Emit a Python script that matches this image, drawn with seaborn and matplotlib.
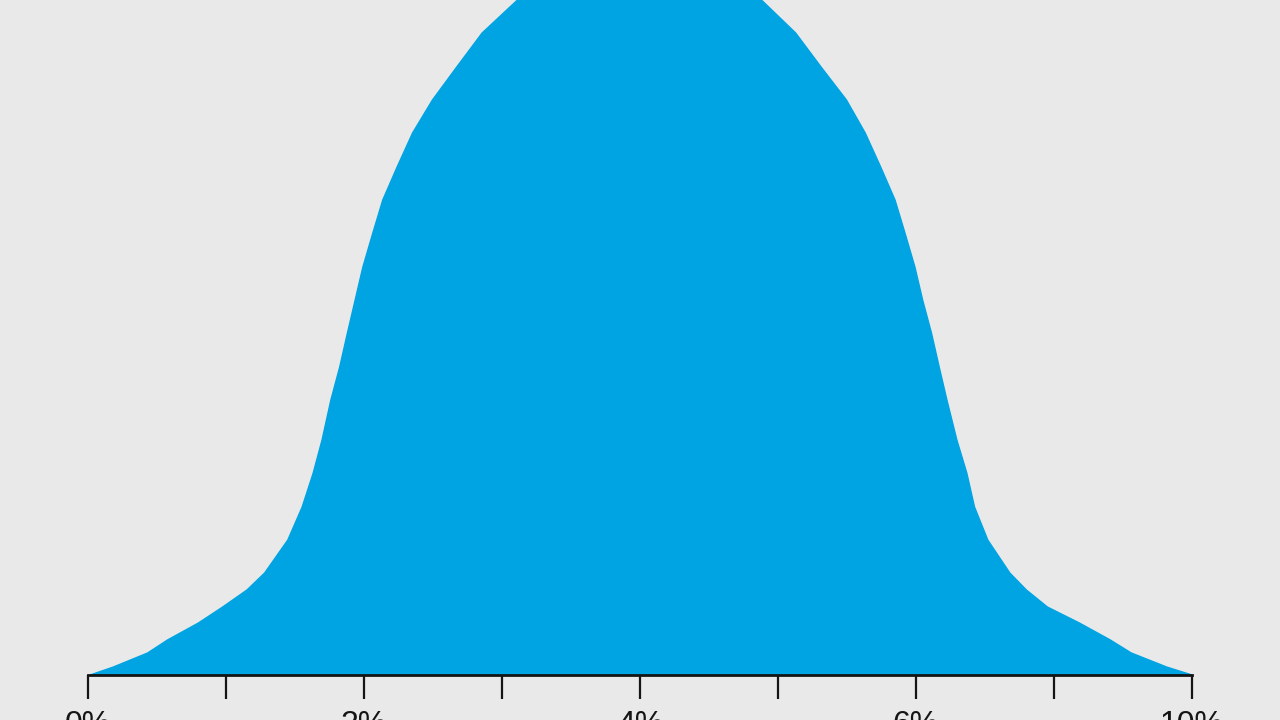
import matplotlib
matplotlib.use("Agg")
import matplotlib.pyplot as plt
import seaborn as sns
import pandas as pd

# Data (x in %, density in arbitrary units)
x_pct = [0.02, 0.23, 0.54, 0.72, 1.00, 1.22, 1.44, 1.60, 1.81, 1.94, 2.04, 2.12,
         2.20, 2.28, 2.35, 2.42, 2.49, 2.58, 2.67, 2.80, 2.94, 3.12, 3.34, 3.57,
         3.89, 4.44, 4.99, 5.54, 6.10, 6.41, 6.64, 6.87, 7.04, 7.18, 7.31, 7.40,
         7.49, 7.56, 7.64, 7.71, 7.78, 7.87, 7.96, 8.03, 8.15, 8.35, 8.50, 8.69,
         8.98, 9.26, 9.45, 9.77, 10.00]
density = [0, 8, 22, 35, 52, 68, 85, 102, 135, 168, 202, 235,
           275, 308, 342, 375, 408, 442, 475, 508, 542, 575, 608, 642,
           675, 720, 732, 720, 675, 642, 608, 575, 542, 508, 475, 442,
           408, 375, 342, 308, 275, 235, 202, 168, 135, 102, 85, 68,
           52, 35, 22, 8, 0]

tick_positions = [0, 1.25, 2.5, 3.75, 5, 6.25, 7.5, 8.75, 10]
tick_labels = ["0%", "", "2%", "", "4%", "", "6%", "", "10%"]

BG = "#E9E9E9"
BLUE = "#00A4E2"
DARK = "#151515"

sns.set_theme(style="white")
plt.rcParams['font.family'] = ['Liberation Sans', 'DejaVu Sans']

fig = plt.figure(figsize=(12.8, 7.2), dpi=100, facecolor=BG)
ax = fig.add_axes([88 / 1280, 45 / 720, (1192 - 88) / 1280, 675 / 720])
ax.set_facecolor(BG)

df = pd.DataFrame({"x": x_pct, "density": density})
sns.lineplot(data=df, x="x", y="density", ax=ax, color=BLUE, linewidth=1.0, sort=False)
ax.fill_between(df["x"], df["density"], color=BLUE, linewidth=0)

ax.set_xlim(0, 10)
ax.set_ylim(0, 675)

for side in ["left", "top", "right"]:
    ax.spines[side].set_visible(False)
ax.spines["bottom"].set_linewidth(2.0)
ax.spines["bottom"].set_color(DARK)

ax.set_yticks([])
ax.set_xticks(tick_positions, tick_labels)
ax.tick_params(axis="x", direction="out", length=17, width=1.6, color=DARK,
               pad=8, labelsize=23, labelcolor=DARK, bottom=True)
ax.set_xlabel("")
ax.set_ylabel("")

fig.savefig("out.png", dpi=100, facecolor=BG)
